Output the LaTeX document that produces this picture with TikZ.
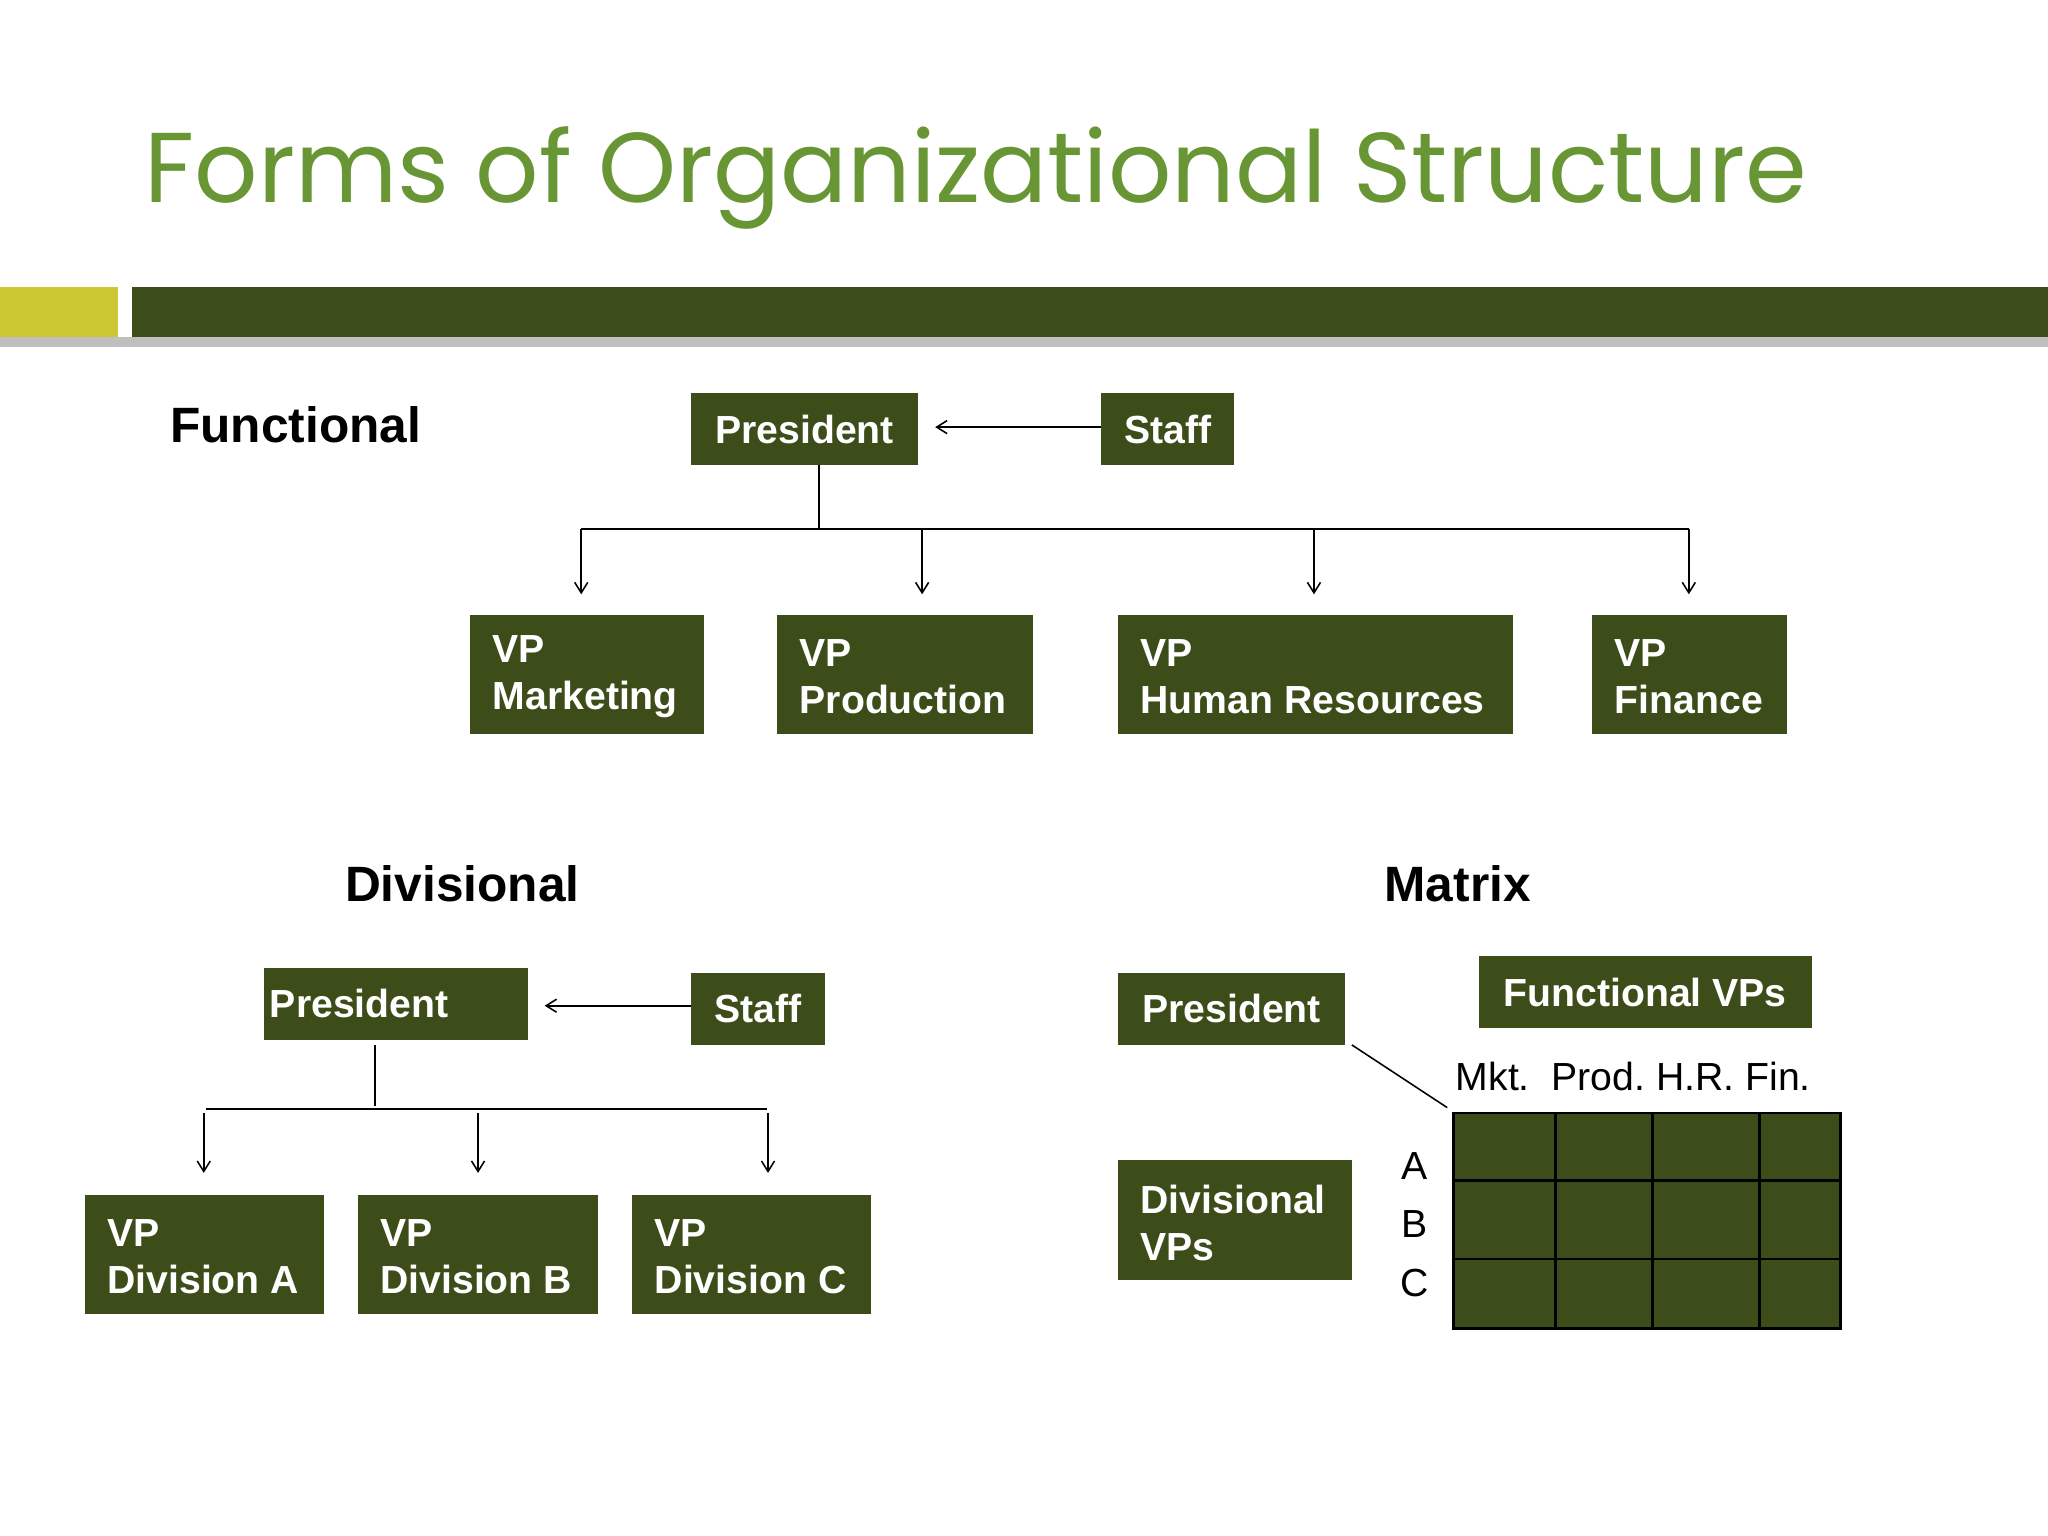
\documentclass[tikz,border=0pt]{standalone}
\usepackage{fontspec}
\usetikzlibrary{arrows.meta}
\setmainfont{Liberation Sans}
\newfontfamily\titlefont{Poppins}
\definecolor{boxgreen}{RGB}{61,77,26}
\definecolor{titlegreen}{RGB}{104,150,52}
\definecolor{baryellow}{RGB}{204,200,52}
\tikzset{every picture/.style={line width=0.6pt}}
\tikzset{
  orgbox/.style={fill=boxgreen,text=white,font=\bfseries\fontsize{15}{17}\selectfont,inner sep=0pt},
  head/.style={font=\bfseries\fontsize{19}{22}\selectfont},
  down/.style={-{Straight Barb[length=4pt,width=5pt]}},
}
\begin{document}
\begin{tikzpicture}[x=0.5pt,y=0.5pt,yscale=-1,xscale=1]
\useasboundingbox (0,0) rectangle (1568,1176);
\fill[white] (0,0) rectangle (1568,1176);

% Title and bars
\node[anchor=base west,text=titlegreen,font=\titlefont\fontsize{38}{42}\selectfont,inner sep=0pt] (title) at (110,155) {Forms of Organizational Structure};
\fill[black!25] (0,258) rectangle (1568,266);
\fill[baryellow] (0,220) rectangle (90,258);
\fill[boxgreen] (101,220) rectangle (1568,258);

% Functional
\node[head,anchor=west] (lfun) at (123,325) {Functional};
\path[orgbox] (529,301) rectangle (703,356) node[midway] (pres1) {President};
\path[orgbox] (843,301) rectangle (945,356) node[midway] (staff1) {Staff};
\coordinate (s1tail) at (843,327);
\coordinate (p1tip) at (716,327);
\draw[down] (s1tail) -- (p1tip);
\coordinate (f0) at (627,356);
\coordinate (f1) at (627,405);
\draw (f0) -- (f1);
\draw (445,405) -- (1293,405);
\foreach \x in {445,706,1006,1293} \draw[down] (\x,405) -- (\x,455);
\foreach \a/\b/\t/\n in {360/539/Marketing/vpm,595/791/Production/vpp,856/1158/Human Resources/vph,1219/1368/Finance/vpf}{
  \fill[boxgreen] (\a,471) rectangle (\b,562);
  \node[anchor=west,text=white,font=\bfseries\fontsize{15}{18}\selectfont,align=left] (\n) at (\a+10,518) {VP\\\t};
}

% Divisional
\node[head] (ldiv) at (354,677) {Divisional};
\path[orgbox] (202,741) rectangle (404,796) node[midway,xshift=-14] (pres2) {President};
\path[orgbox] (529,745) rectangle (632,800) node[midway] (staff2) {Staff};
\coordinate (s2tail) at (529,770);
\coordinate (p2tip) at (417,770);
\draw[down] (s2tail) -- (p2tip);
\draw (287,800) -- (287,847);
\draw (158,849) -- (587,849);
\foreach \x in {156,366,588} \draw[down] (\x,852) -- (\x,898);
\foreach \a/\b/\t/\n in {65/248/A/vda,274/458/B/vdb,484/667/C/vdc}{
  \fill[boxgreen] (\a,915) rectangle (\b,1006);
  \node[anchor=west,text=white,font=\bfseries\fontsize{15}{18}\selectfont,align=left] (\n) at (\a+10,962) {VP\\Division \t};
}

% Matrix
\node[head] (lmat) at (1116,677) {Matrix};
\path[orgbox] (856,745) rectangle (1030,800) node[midway] (pres3) {President};
\path[orgbox] (1132,732) rectangle (1387,787) node[midway] (fvps) {Functional VPs};
\fill[boxgreen] (856,888) rectangle (1035,980);
\node[anchor=west,text=white,font=\bfseries\fontsize{15}{18}\selectfont,align=left] (dvps) at (866,936) {Divisional\\VPs};
\coordinate (pcorner) at (1035,800);
\coordinate (gridcorner) at (1108,848);
\draw (pcorner) -- (gridcorner);
\draw[fill=boxgreen,line width=1pt] (1113,852) rectangle (1409,1017);
\foreach \x in {1191,1265,1347} \draw[line width=1pt] (\x,852) -- (\x,1017);
\foreach \y in {904,964} \draw[line width=1pt] (1113,\y) -- (1409,\y);
\node[anchor=base west,font=\fontsize{15}{18}\selectfont,inner sep=0pt] (cols) at (1114,835) {Mkt.\ \ Prod.\ H.R.\ Fin.};
\foreach \y/\t in {893/A,937/B,982/C} \node[font=\fontsize{15}{18}\selectfont] (row\t) at (1083,\y) {\t};
\end{tikzpicture}
\end{document}
